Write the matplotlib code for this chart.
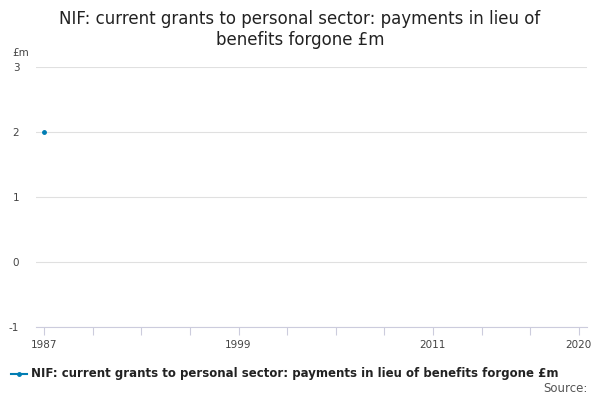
import matplotlib
matplotlib.use("Agg")
import matplotlib.pyplot as plt

years = [1987]
values = [2]
tick_years = list(range(1987, 2021, 3))
label_years = [1987, 1999, 2011, 2020]
title = "NIF: current grants to personal sector: payments in lieu of\nbenefits forgone £m"
series_name = "NIF: current grants to personal sector: payments in lieu of benefits forgone £m"

fig = plt.figure(figsize=(6, 4), dpi=100)
ax = fig.add_axes([0.06, 0.183, 0.918, 0.65])
ax.plot(years, values, marker='o', markersize=2.5, color='#007db3', linewidth=1.5)
ax.set_xlim(1986.5, 2020.5)
ax.set_ylim(-1, 3)
ax.set_yticks([-1, 0, 1, 2, 3])
ax.set_yticklabels(['-1', '0', '1', '2', '3'])
ax.grid(axis='y', color='#e0e0e0', linewidth=0.8)
ax.set_axisbelow(True)
ax.set_xticks(tick_years)
ax.set_xticklabels([str(y) if y in label_years else '' for y in tick_years])
ax.tick_params(axis='x', length=6, color='#ccccdd', labelsize=7.5, labelcolor='#444444')
ax.tick_params(axis='y', length=0, labelsize=7.5, labelcolor='#444444', pad=12)
for s in ['top', 'right', 'left']:
    ax.spines[s].set_visible(False)
ax.spines['bottom'].set_color('#ccccdd')
fig.text(0.5, 0.975, title, ha='center', va='top', fontsize=12, color='#222222')
fig.text(0.02, 0.86, '£m', fontsize=7.5, color='#444444')
fig.add_artist(plt.Line2D([0.018, 0.045], [0.065, 0.065], color='#007db3', lw=1.5))
fig.add_artist(plt.Line2D([0.0315], [0.065], marker='o', markersize=2.5, color='#007db3'))
fig.text(0.052, 0.065, series_name, fontsize=8.5, fontweight='bold', va='center', color='#222222')
fig.text(0.98, 0.02, 'Source:', fontsize=8.5, ha='right', color='#555555')
fig.savefig('out.png', dpi=100)
